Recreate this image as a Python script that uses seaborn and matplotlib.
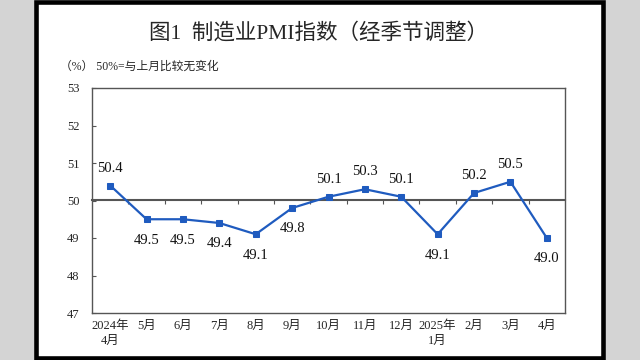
import numpy as np
import pandas as pd
import matplotlib
matplotlib.use('Agg')
import matplotlib.pyplot as plt
from matplotlib.patches import Rectangle
import seaborn as sns

# chart values
months = ['2024年\n4月', '5月', '6月', '7月', '8月', '9月', '10月', '11月',
          '12月', '2025年\n1月', '2月', '3月', '4月']
pmi = [50.4, 49.5, 49.5, 49.4, 49.1, 49.8, 50.1, 50.3, 50.1, 49.1, 50.2, 50.5, 49.0]
y_ticks = [47, 48, 49, 50, 51, 52, 53]
title = '图1  制造业PMI指数（经季节调整）'
note = '（%） 50%=与上月比较无变化'

sns.set_style('white')
plt.rcParams['font.family'] = ['Liberation Serif', 'Noto Sans CJK SC', 'DejaVu Sans']

blue = '#1f5bbf'
gray = '#555555'

fig = plt.figure(figsize=(6.4, 3.6), dpi=100, facecolor='#d4d4d4')

# white card with black frame
card = Rectangle((36 / 640, 1 - 357.5 / 360), 566.5 / 640, 355.5 / 360,
                 transform=fig.transFigure, facecolor='white',
                 edgecolor='black', linewidth=3.3, zorder=0)
fig.add_artist(card)

fig.text(0.498, 1 - 33 / 360, title, ha='center', va='center', fontsize=15.5)
fig.text(60 / 640, 1 - 67 / 360, note, ha='left', va='center', fontsize=8.5)

ax = fig.add_axes([92 / 640, 1 - 313 / 360, 473 / 640, 225 / 360])
ax.set_facecolor('white')

df = pd.DataFrame({'idx': np.arange(len(months)), 'pmi': pmi})
sns.lineplot(data=df, x='idx', y='pmi', ax=ax, color=blue, linewidth=1.6,
             marker='s', markersize=4.5, markeredgecolor=blue, markerfacecolor=blue,
             zorder=5)

# value labels
for i, v in enumerate(pmi):
    dy = 12.5 if v > 50 else -15
    ax.annotate(f'{v:.1f}', (i, v), xytext=(0, dy), textcoords='offset points',
                ha='center', va='center', fontsize=10.5, color='#111111')

ax.set_xlim(-0.5, len(months) - 0.5)
ax.set_ylim(47, 53)
ax.set_yticks(y_ticks)
ax.set_xticks(np.arange(len(months)), labels=months)
for lab in ax.get_xticklabels():
    lab.set_linespacing(1.35)
ax.tick_params(axis='x', length=0, pad=5, labelsize=9)
ax.tick_params(axis='y', direction='in', length=3, pad=9, labelsize=9, color=gray, left=True)
ax.set_xlabel('')
ax.set_ylabel('')
for s in ax.spines.values():
    s.set_color(gray)
    s.set_linewidth(1.0)

# 50% reference line with small ticks between months
sec = ax.secondary_xaxis(0.5)
sec.set_xticks(np.arange(0.5, len(months) - 1, 1))
sec.tick_params(axis='x', direction='in', length=3, color=gray,
                labeltop=False, labelbottom=False)
for s in sec.spines.values():
    s.set_color(gray)
    s.set_linewidth(1.5)

fig.savefig('out.png', dpi=100, facecolor=fig.get_facecolor())
